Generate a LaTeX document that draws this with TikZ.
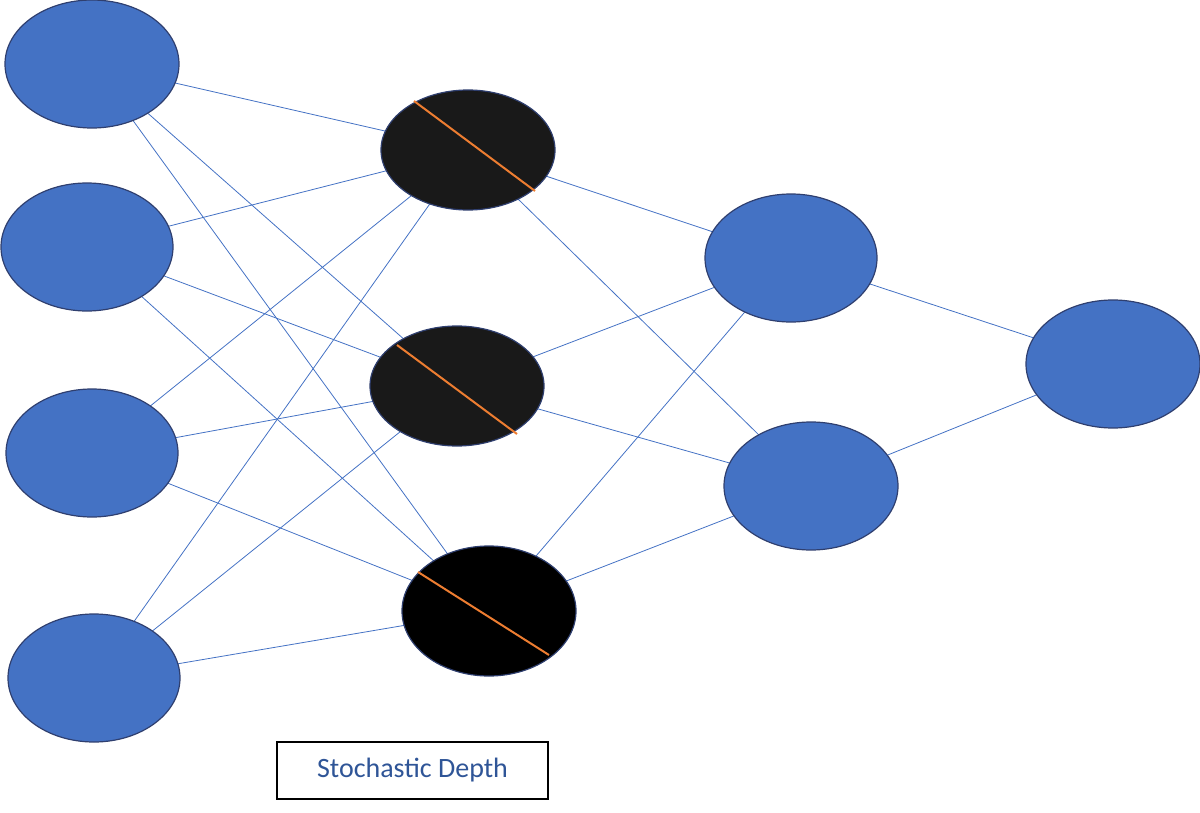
\documentclass[tikz,border=0pt]{standalone}
\usepackage{fontspec}
\setmainfont{Carlito}
\usetikzlibrary{shapes.geometric}
\definecolor{nblue}{HTML}{4472C4}
\definecolor{nedge}{HTML}{2F3F6F}
\definecolor{norange}{HTML}{ED7D31}
\definecolor{tblue}{HTML}{2F5597}
\begin{document}
\begin{tikzpicture}[x=0.5pt,y=-0.5pt,
  neur/.style={ellipse,draw=nedge,line width=0.6pt,fill=nblue,inner sep=0pt},
  hid/.style={ellipse,draw=nedge,line width=0.6pt,inner sep=0pt},
  conn/.style={draw=nblue,line width=0.4pt},
  cut/.style={draw=norange,line width=1pt}]
\useasboundingbox (0,0) rectangle (1200,813);
\coordinate (a) at (92,64); \coordinate (b) at (87,247); \coordinate (c) at (92,453); \coordinate (d) at (94,678);
\coordinate (h1) at (468,150); \coordinate (h2) at (457,386); \coordinate (h3) at (489,611);
\coordinate (m1) at (791,258); \coordinate (m2) at (811,486); \coordinate (o) at (1113,364);
\foreach \i in {a,b,c,d}{\foreach \h in {h1,h2,h3}{\draw[conn] (\i)--(\h);}}
\foreach \h in {h1,h2,h3}{\foreach \m in {m1,m2}{\draw[conn] (\h)--(\m);}}
\draw[conn] (m1)--(o); \draw[conn] (m2)--(o);
\node[neur,minimum width=87pt,minimum height=64pt] (A) at (a) {};
\node[neur,minimum width=86pt,minimum height=64pt] (B) at (b) {};
\node[neur,minimum width=86pt,minimum height=64pt] (C) at (c) {};
\node[neur,minimum width=86pt,minimum height=64pt] (D) at (d) {};
\node[hid,fill=black!90,minimum width=87pt,minimum height=60pt] (H1) at (h1) {};
\node[hid,fill=black!90,minimum width=87pt,minimum height=60pt] (H2) at (h2) {};
\node[hid,fill=black,minimum width=87pt,minimum height=65pt] (H3) at (h3) {};
\node[neur,minimum width=86pt,minimum height=64pt] (M1) at (m1) {};
\node[neur,minimum width=87pt,minimum height=64pt] (M2) at (m2) {};
\node[neur,minimum width=87pt,minimum height=64pt] (O) at (o) {};
\coordinate (p1) at (414,101); \coordinate (q1) at (535,191);
\coordinate (p2) at (397,345); \coordinate (q2) at (517,434);
\coordinate (p3) at (418,572); \coordinate (q3) at (549,655);
\draw[cut] (p1)--(q1); \draw[cut] (p2)--(q2); \draw[cut] (p3)--(q3);
\node[draw=black,line width=0.6pt,minimum width=135.5pt,minimum height=28.5pt,inner sep=0pt,text=tblue,font=\fontsize{14}{16}\selectfont] (L) at (412.5,770.5) {Stochastic Depth};
\end{tikzpicture}
\end{document}
